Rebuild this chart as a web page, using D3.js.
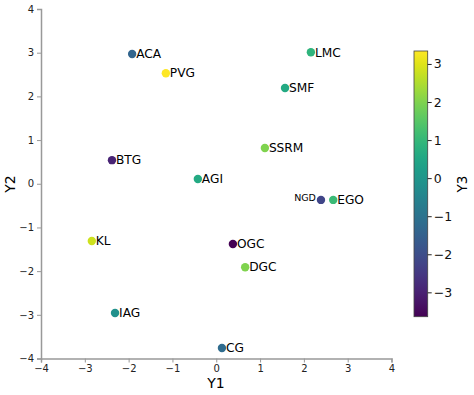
<!DOCTYPE html>
<html><head><meta charset="utf-8">
<script src="https://cdn.jsdelivr.net/npm/d3@7"></script>
<style>body{margin:0;background:#fff}svg{display:block;font-family:"DejaVu Sans",sans-serif}</style>
</head><body><svg id="c" width="474" height="395"></svg>
<script>
const names = ["ACA","PVG","LMC","SMF","SSRM","BTG","AGI","NGD","EGO","KL","OGC","DGC","IAG","CG"];
const y1 = [-1.92,-1.15,2.16,1.57,1.11,-2.38,-0.42,2.39,2.67,-2.84,0.38,0.66,-2.31,0.13];
const y2 = [2.97,2.53,3.01,2.19,0.82,0.54,0.11,-0.37,-0.37,-1.31,-1.38,-1.91,-2.96,-3.76];
const y3 = [-1.4,3.34,0.9,0.6,2.0,-2.95,0.6,-2.2,1.1,2.8,-3.64,2.0,-0.15,-1.2];
const axisTicks = [-4,-3,-2,-1,0,1,2,3,4];
const cbTicks = [-3,-2,-1,0,1,2,3];

const svg = d3.select("#c");
const x = d3.scaleLinear().domain([-4,4]).range([41,391.5]);
const y = d3.scaleLinear().domain([-4,4]).range([358.5,9]);
const cmin = d3.min(y3), cmax = d3.max(y3);
const color = d3.scaleSequential(d3.interpolateViridis).domain([cmin,cmax]);
const fmt = d=>d3.format("")(d).replace("-","\u2212");

const gx = svg.append("g").attr("transform","translate(0,358.5)")
  .call(d3.axisBottom(x).tickValues(axisTicks).tickSize(4).tickPadding(2).tickFormat(fmt));
const gy = svg.append("g").attr("transform","translate(41,0)")
  .call(d3.axisLeft(y).tickValues(axisTicks).tickSize(4).tickPadding(3).tickFormat(fmt));
[gx,gy].forEach(g=>{
  g.select(".domain").attr("stroke","#999").attr("stroke-width",1.5);
  g.selectAll(".tick line").attr("stroke","#999").attr("stroke-width",1);
  g.selectAll(".tick text").attr("font-size",10).attr("fill","#222").attr("font-family","DejaVu Sans");
});

svg.append("text").attr("x",216).attr("y",388).attr("text-anchor","middle").attr("font-size",14).text("Y1");
svg.append("text").attr("transform","translate(15,184) rotate(-90)").attr("text-anchor","middle").attr("font-size",14).text("Y2");

const pts = names.map((n,i)=>({n,x:y1[i],y:y2[i],c:y3[i]}));
svg.append("g").selectAll("circle").data(pts).join("circle")
  .attr("cx",d=>x(d.x)).attr("cy",d=>y(d.y)).attr("r",4.2).attr("fill",d=>color(d.c));
svg.append("g").selectAll("text").data(pts).join("text")
  .attr("x",d=>x(d.x)+(d.n==="NGD"?-5:4))
  .attr("y",d=>y(d.y)+(d.n==="NGD"?-2:0))
  .attr("dy","0.35em")
  .attr("text-anchor",d=>d.n==="NGD"?"end":"start")
  .attr("font-size",d=>d.n==="NGD"?9.5:12.2)
  .text(d=>d.n);

// colorbar
const cb = d3.scaleLinear().domain([cmin,cmax]).range([316.7,51]);
const defs = svg.append("defs");
const grad = defs.append("linearGradient").attr("id","vg").attr("x1",0).attr("x2",0).attr("y1",1).attr("y2",0);
d3.range(0,1.0001,0.05).forEach(t=>grad.append("stop").attr("offset",t).attr("stop-color",d3.interpolateViridis(t)));
svg.append("rect").attr("x",414).attr("y",51).attr("width",13.7).attr("height",265.7).attr("fill","url(#vg)")
  .attr("stroke","#444").attr("stroke-width",0.8);
const gc = svg.append("g").attr("transform","translate(427.7,0)")
  .call(d3.axisRight(cb).tickValues(cbTicks).tickSize(4).tickPadding(2).tickFormat(fmt));
gc.select(".domain").remove();
gc.selectAll(".tick line").attr("stroke","#222");
gc.selectAll(".tick text").attr("font-size",12.5).attr("fill","#111").attr("font-family","DejaVu Sans");
svg.append("text").attr("transform","translate(462,184) rotate(-90)").attr("text-anchor","middle").attr("dy","0.35em").attr("font-size",13.5).text("Y3");
</script></body></html>
